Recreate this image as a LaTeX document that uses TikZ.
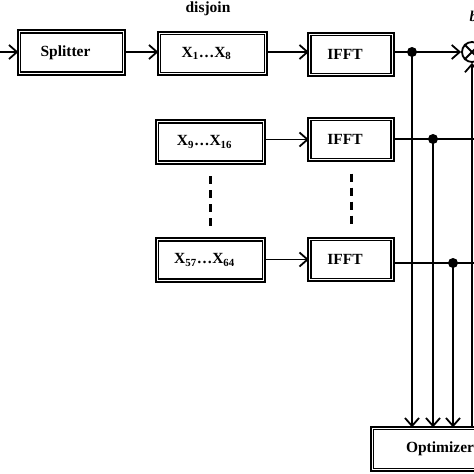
\documentclass[tikz,border=0pt]{standalone}
\usepackage{fontspec}
\setmainfont{Liberation Serif}
\usepackage{tikz}
\usetikzlibrary{arrows.meta}
\usetikzlibrary{positioning}
\tikzset{
	blockbox/.style={rectangle, draw=black, line width=1.7pt, double=white, double distance=1.1pt, font=\bfseries\fontsize{15.5}{18}\selectfont, execute at begin node={\hspace*{-12pt}}},
	splitbox/.style={blockbox, minimum width=104.6pt, minimum height=41.6pt},
	subbox/.style={blockbox, minimum width=106.6pt, minimum height=40.6pt},
	ifftbox/.style={blockbox, minimum width=82.6pt, minimum height=40.6pt},
	multnode/.style={circle, draw=black, line width=1.8pt, minimum size=20pt, inner sep=0pt},
	joindot/.style={circle, fill=black, minimum size=10pt, inner sep=0pt},
	sigline/.style={line width=1.8pt},
	sigarrow/.style={line width=1.8pt, -{Straight Barb[length=8pt,width=14pt,line width=1.8pt]}},
	dashline/.style={line width=3pt, dash pattern=on 8pt off 6pt}
}

\begin{document}
\begin{tikzpicture}[x=1pt,y=-1pt]
		\useasboundingbox (0,0) rectangle (474,474);
		\clip (0,0) rectangle (474,474);
		\node[splitbox] at (71.5,52.5) (split)  {Splitter};
		\node[subbox] at (212.5,53.5) (xa)      {X\textsubscript{1}\ldots X\textsubscript{8}};
		\node[subbox] at (210.5,142) (xb)       {X\textsubscript{9}\ldots X\textsubscript{16}};
		\node[subbox] at (210.5,260) (xc)       {X\textsubscript{57}\ldots X\textsubscript{64}};
		\node[ifftbox] at (351,54.5) (ifa)      {IFFT};
		\node[ifftbox] at (351,139.5) (ifb)     {IFFT};
		\node[ifftbox] at (351,259.5) (ifc)     {IFFT};
		\node[blockbox, minimum width=147.6pt, minimum height=41.6pt, execute at begin node={}] at (446,449) (opt) {Optimizer};
		\node[multnode] at (472,52) (mult) {};
		\node[font=\bfseries\itshape\fontsize{15}{18}\selectfont, anchor=west] at (466,16) (b) {b};
		\node[font=\bfseries\fontsize{15.5}{18}\selectfont] at (208,9) (dj) {disjoin};
		\coordinate (in) at (-5,52);
		\coordinate (rb) at (485,139);
		\coordinate (rc) at (485,263);
		\node[joindot] at (412,52) (da) {};
		\node[joindot] at (433,139) (db) {};
		\node[joindot] at (453,263) (dc) {};
		%Lines
		\draw[sigline] (mult.north west) -- (mult.south east);
		\draw[sigline] (mult.south west) -- (mult.north east);
		\draw[sigarrow] (in) -- (split.west |- in);
		\draw[sigarrow] (split.east |- in) -- (xa.west |- in);
		\draw[sigarrow] (xa.east |- in) -- (ifa.west |- in);
		\draw[sigarrow] (ifa.east |- da) -- (mult.west);
		\draw[sigarrow] (xb.east |- ifb) -- (ifb.west);
		\draw[sigarrow] (xc.east |- ifc) -- (ifc.west);
		\draw[sigline] (ifb.east |- rb) -- (rb);
		\draw[sigline] (ifc.east |- rc) -- (rc);
		
		\draw[sigarrow] (da.center) -- (da |- opt.north);
		\draw[sigarrow] (db.center) -- (db |- opt.north);
		\draw[sigarrow] (dc.center) -- (dc |- opt.north);
		\draw[sigarrow] (mult |- opt.north) -- (mult.south);
		
		\draw[dashline, shorten <=13pt, shorten >=10pt] (xb.south) -- (xc.north);
		\draw[dashline, shorten <=13pt, shorten >=10pt] (ifb.south) -- (ifc.north);
		
	\end{tikzpicture}
\end{document}
